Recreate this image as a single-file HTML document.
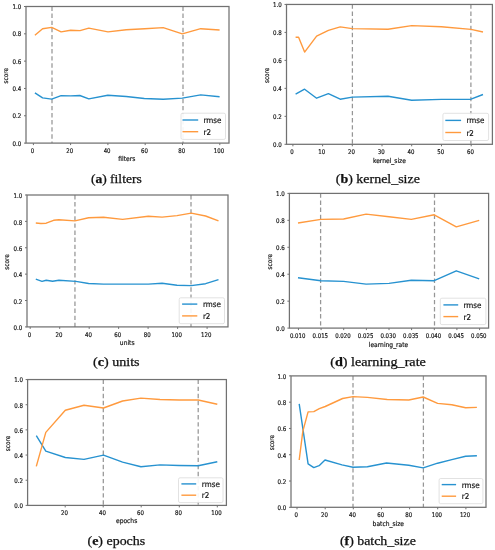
<!DOCTYPE html>
<html lang="en">
<head>
<meta charset="utf-8">
<title>Hyperparameter sensitivity: rmse and r2 scores</title>
<style>
html,body{margin:0;padding:0;background:#fff;}
body{width:495px;height:550px;overflow:hidden;}
svg{display:block;}
text{font-family:"DejaVu Sans","Liberation Sans",sans-serif;fill:#111;stroke:#111;stroke-width:0.18px;}
.cap{font-family:"Liberation Serif","DejaVu Serif",serif;font-size:12.6px;fill:#111;stroke:#111;stroke-width:0.25px;}
.fr{fill:none;stroke:#717171;stroke-width:1.25;}
.tk{fill:none;stroke:#606060;stroke-width:0.9;}
.dash{fill:none;stroke:#969696;stroke-width:1.25;stroke-dasharray:4.4 2.7;}
.ln{fill:none;stroke-width:1.4;stroke-linejoin:round;stroke-linecap:butt;}
.lg{fill:#fff;fill-opacity:0.9;stroke:#dadada;stroke-width:0.8;}
</style>
</head>
<body>
<svg width="495" height="550" viewBox="0 0 495 550">
<rect width="495" height="550" fill="#fff"/>
<g id="plot-a">
<path class="dash" d="M52 6.5V143.1"/>
<path class="dash" d="M183 6.5V143.1"/>
<polyline class="ln" stroke="#2792d0" points="34.9,92.8 42.6,97.9 51.7,99.1 61.1,95.7 70.6,95.9 79.8,95.5 88.8,98.9 107.8,95.3 126.2,96.5 144.3,98.5 163.2,99.3 182.3,98.1 200.7,94.9 219.6,96.8"/>
<polyline class="ln" stroke="#ff9a3e" points="34.9,35.3 42.6,28.7 51.7,27.4 61.1,31.9 70.6,30.2 80,30.6 88.8,28.1 108,31.9 126.2,29.7 144.7,28.7 163.2,27.6 182.3,33.8 200.7,28.7 219.6,30"/>
<path class="tk" d="M26 143.1h-2M26 115.78h-2M26 88.46h-2M26 61.14h-2M26 33.82h-2M26 6.5h-2M33.4 143.1v2M70.6 143.1v2M107.9 143.1v2M145.2 143.1v2M182.5 143.1v2M219.8 143.1v2"/>
<rect class="fr" x="26" y="6.5" width="203" height="136.6"/>
<text transform="translate(21.3,145.75) scale(0.86,1)" font-size="6.4" text-anchor="end">0.0</text>
<text transform="translate(21.3,118.43) scale(0.86,1)" font-size="6.4" text-anchor="end">0.2</text>
<text transform="translate(21.3,91.11) scale(0.86,1)" font-size="6.4" text-anchor="end">0.4</text>
<text transform="translate(21.3,63.79) scale(0.86,1)" font-size="6.4" text-anchor="end">0.6</text>
<text transform="translate(21.3,36.47) scale(0.86,1)" font-size="6.4" text-anchor="end">0.8</text>
<text transform="translate(21.3,9.15) scale(0.86,1)" font-size="6.4" text-anchor="end">1.0</text>
<text transform="translate(32.6,153.4) scale(0.85,1)" font-size="6.4" text-anchor="middle">0</text>
<text transform="translate(69.8,153.4) scale(0.85,1)" font-size="6.4" text-anchor="middle">20</text>
<text transform="translate(107.1,153.4) scale(0.85,1)" font-size="6.4" text-anchor="middle">40</text>
<text transform="translate(144.4,153.4) scale(0.85,1)" font-size="6.4" text-anchor="middle">60</text>
<text transform="translate(181.7,153.4) scale(0.85,1)" font-size="6.4" text-anchor="middle">80</text>
<text transform="translate(219,153.4) scale(0.85,1)" font-size="6.4" text-anchor="middle">100</text>
<text transform="translate(126.8,160.8) scale(0.9,1)" font-size="6.65" text-anchor="middle">filters</text>
<text transform="translate(8.3,75.8) rotate(-90) scale(0.9,1)" font-size="6.4" text-anchor="middle">score</text>
<rect class="lg" x="181" y="113.2" width="44.5" height="26.2" rx="1.6"/>
<path class="ln" stroke="#2792d0" d="M182.5 120H198.2"/>
<path class="ln" stroke="#ff9a3e" d="M182.5 131.7H198.2"/>
<text transform="translate(203.5,122.9) scale(0.9,1)" font-size="8.0" text-anchor="start">rmse</text>
<text transform="translate(203.5,134.9) scale(0.9,1)" font-size="8.0" text-anchor="start">r2</text>
</g>
<text class="cap" x="90.9" y="182.8" textLength="50.8" lengthAdjust="spacingAndGlyphs">(<tspan font-weight="bold">a</tspan>) filters</text>
<g id="plot-b">
<path class="dash" d="M352.4 4.45V144.3"/>
<path class="dash" d="M470.9 4.45V144.3"/>
<polyline class="ln" stroke="#2792d0" points="295.6,94.1 304.6,89.2 316.6,98.2 328.4,93.7 340.2,99.2 352.3,97.1 388,96.2 411.7,100.3 441.4,99.4 471,99.2 483,94.5"/>
<polyline class="ln" stroke="#ff9a3e" points="295.6,37.3 298.6,37.3 304.6,52.1 316.6,36.2 328.4,30.3 340.2,26.9 352.3,28.6 388,29.2 411.7,25.6 441.4,26.7 471,29.4 483,32"/>
<path class="tk" d="M286.5 144.3h-2M286.5 116.33h-2M286.5 88.36h-2M286.5 60.39h-2M286.5 32.42h-2M286.5 4.45h-2M292.9 144.3v2M322.6 144.3v2M352.3 144.3v2M382 144.3v2M411.7 144.3v2M441.5 144.3v2M471.2 144.3v2"/>
<rect class="fr" x="286.5" y="4.45" width="205.9" height="139.85"/>
<text transform="translate(281.8,147.15) scale(0.86,1)" font-size="6.4" text-anchor="end">0.0</text>
<text transform="translate(281.8,119.18) scale(0.86,1)" font-size="6.4" text-anchor="end">0.2</text>
<text transform="translate(281.8,91.21) scale(0.86,1)" font-size="6.4" text-anchor="end">0.4</text>
<text transform="translate(281.8,63.24) scale(0.86,1)" font-size="6.4" text-anchor="end">0.6</text>
<text transform="translate(281.8,35.27) scale(0.86,1)" font-size="6.4" text-anchor="end">0.8</text>
<text transform="translate(281.8,7.3) scale(0.86,1)" font-size="6.4" text-anchor="end">1.0</text>
<text transform="translate(292.1,154) scale(0.85,1)" font-size="6.4" text-anchor="middle">0</text>
<text transform="translate(321.8,154) scale(0.85,1)" font-size="6.4" text-anchor="middle">10</text>
<text transform="translate(351.5,154) scale(0.85,1)" font-size="6.4" text-anchor="middle">20</text>
<text transform="translate(381.2,154) scale(0.85,1)" font-size="6.4" text-anchor="middle">30</text>
<text transform="translate(410.9,154) scale(0.85,1)" font-size="6.4" text-anchor="middle">40</text>
<text transform="translate(440.7,154) scale(0.85,1)" font-size="6.4" text-anchor="middle">50</text>
<text transform="translate(470.4,154) scale(0.85,1)" font-size="6.4" text-anchor="middle">60</text>
<text transform="translate(389.4,163.4) scale(0.9,1)" font-size="6.65" text-anchor="middle">kernel_size</text>
<text transform="translate(268.5,75.38) rotate(-90) scale(0.9,1)" font-size="6.4" text-anchor="middle">score</text>
<rect class="lg" x="442.9" y="113.3" width="45.7" height="27.2" rx="1.6"/>
<path class="ln" stroke="#2792d0" d="M445.3 120.4H461.1"/>
<path class="ln" stroke="#ff9a3e" d="M445.3 132.5H461.1"/>
<text transform="translate(466.4,123.3) scale(0.9,1)" font-size="8.0" text-anchor="start">rmse</text>
<text transform="translate(466.4,135.7) scale(0.9,1)" font-size="8.0" text-anchor="start">r2</text>
</g>
<text class="cap" x="335.8" y="183.2" textLength="84.1" lengthAdjust="spacingAndGlyphs">(<tspan font-weight="bold">b</tspan>) kernel_size</text>
<g id="plot-c">
<path class="dash" d="M74.95 195V326.9"/>
<path class="dash" d="M191 195V326.9"/>
<polyline class="ln" stroke="#2792d0" points="35.8,279.2 42,281.4 46.2,280.3 52.6,281.2 58.9,280.3 75.9,281.4 88.6,283.5 103.5,284.1 130,284.1 148.3,284.1 162.1,283.3 177,285.2 191.2,285.6 205.6,283.7 218.5,279.7"/>
<polyline class="ln" stroke="#ff9a3e" points="35.8,223 40.9,223.5 46.2,223.2 53.6,220.3 58.9,219.8 74.9,220.9 88.6,217.7 103.5,217.3 122.6,219.4 148.3,216.2 162.1,217.1 177,215.6 191.2,213.1 205.6,216 218.5,220.9"/>
<path class="tk" d="M27 326.9h-2M27 300.52h-2M27 274.14h-2M27 247.76h-2M27 221.38h-2M27 195h-2M30.2 326.9v2M59.7 326.9v2M89.2 326.9v2M118.6 326.9v2M148.1 326.9v2M177.6 326.9v2M207.1 326.9v2"/>
<rect class="fr" x="27" y="195" width="201" height="131.9"/>
<text transform="translate(22.3,330.05) scale(0.86,1)" font-size="6.4" text-anchor="end">0.0</text>
<text transform="translate(22.3,303.67) scale(0.86,1)" font-size="6.4" text-anchor="end">0.2</text>
<text transform="translate(22.3,277.29) scale(0.86,1)" font-size="6.4" text-anchor="end">0.4</text>
<text transform="translate(22.3,250.91) scale(0.86,1)" font-size="6.4" text-anchor="end">0.6</text>
<text transform="translate(22.3,224.53) scale(0.86,1)" font-size="6.4" text-anchor="end">0.8</text>
<text transform="translate(22.3,198.15) scale(0.86,1)" font-size="6.4" text-anchor="end">1.0</text>
<text transform="translate(29.4,337.2) scale(0.85,1)" font-size="6.4" text-anchor="middle">0</text>
<text transform="translate(58.9,337.2) scale(0.85,1)" font-size="6.4" text-anchor="middle">20</text>
<text transform="translate(88.4,337.2) scale(0.85,1)" font-size="6.4" text-anchor="middle">40</text>
<text transform="translate(117.8,337.2) scale(0.85,1)" font-size="6.4" text-anchor="middle">60</text>
<text transform="translate(147.3,337.2) scale(0.85,1)" font-size="6.4" text-anchor="middle">80</text>
<text transform="translate(176.8,337.2) scale(0.85,1)" font-size="6.4" text-anchor="middle">100</text>
<text transform="translate(206.3,337.2) scale(0.85,1)" font-size="6.4" text-anchor="middle">120</text>
<text transform="translate(127.2,344.6) scale(0.9,1)" font-size="6.65" text-anchor="middle">units</text>
<text transform="translate(9.4,261.95) rotate(-90) scale(0.9,1)" font-size="6.4" text-anchor="middle">score</text>
<rect class="lg" x="179.2" y="297.8" width="45.3" height="25.9" rx="1.6"/>
<path class="ln" stroke="#2792d0" d="M182.1 304.1H197.3"/>
<path class="ln" stroke="#ff9a3e" d="M182.1 315.9H197.3"/>
<text transform="translate(202.9,307) scale(0.9,1)" font-size="8.0" text-anchor="start">rmse</text>
<text transform="translate(202.9,319.1) scale(0.9,1)" font-size="8.0" text-anchor="start">r2</text>
</g>
<text class="cap" x="93" y="365.7" textLength="46.6" lengthAdjust="spacingAndGlyphs">(<tspan font-weight="bold">c</tspan>) units</text>
<g id="plot-d">
<path class="dash" d="M320.6 193.4V328.1"/>
<path class="dash" d="M434.5 193.4V328.1"/>
<polyline class="ln" stroke="#2792d0" points="298,277.8 320.9,280.7 343.6,281.4 366.1,284.1 389,283.4 411.3,280.3 434.2,280.7 456.3,270.8 479.2,278.8"/>
<polyline class="ln" stroke="#ff9a3e" points="298,223 320.9,219.4 343.6,219 366.1,214.1 389,216.8 411.3,219.4 434.2,214.8 456.3,226.9 479.2,220.3"/>
<path class="tk" d="M289.4 328.1h-2M289.4 301.16h-2M289.4 274.22h-2M289.4 247.28h-2M289.4 220.34h-2M289.4 193.4h-2M298.45 328.1v2M321.1 328.1v2M343.7 328.1v2M366.4 328.1v2M389 328.1v2M411.6 328.1v2M434.3 328.1v2M456.9 328.1v2M479.6 328.1v2"/>
<rect class="fr" x="289.4" y="193.4" width="199.2" height="134.7"/>
<text transform="translate(284.7,330.95) scale(0.86,1)" font-size="6.4" text-anchor="end">0.0</text>
<text transform="translate(284.7,304.01) scale(0.86,1)" font-size="6.4" text-anchor="end">0.2</text>
<text transform="translate(284.7,277.07) scale(0.86,1)" font-size="6.4" text-anchor="end">0.4</text>
<text transform="translate(284.7,250.13) scale(0.86,1)" font-size="6.4" text-anchor="end">0.6</text>
<text transform="translate(284.7,223.19) scale(0.86,1)" font-size="6.4" text-anchor="end">0.8</text>
<text transform="translate(284.7,196.25) scale(0.86,1)" font-size="6.4" text-anchor="end">1.0</text>
<text transform="translate(297.65,337.9) scale(0.85,1)" font-size="6.4" text-anchor="middle">0.010</text>
<text transform="translate(320.3,337.9) scale(0.85,1)" font-size="6.4" text-anchor="middle">0.015</text>
<text transform="translate(342.9,337.9) scale(0.85,1)" font-size="6.4" text-anchor="middle">0.020</text>
<text transform="translate(365.6,337.9) scale(0.85,1)" font-size="6.4" text-anchor="middle">0.025</text>
<text transform="translate(388.2,337.9) scale(0.85,1)" font-size="6.4" text-anchor="middle">0.030</text>
<text transform="translate(410.8,337.9) scale(0.85,1)" font-size="6.4" text-anchor="middle">0.035</text>
<text transform="translate(433.5,337.9) scale(0.85,1)" font-size="6.4" text-anchor="middle">0.040</text>
<text transform="translate(456.1,337.9) scale(0.85,1)" font-size="6.4" text-anchor="middle">0.045</text>
<text transform="translate(478.8,337.9) scale(0.85,1)" font-size="6.4" text-anchor="middle">0.050</text>
<text transform="translate(388.5,346.9) scale(0.9,1)" font-size="6.65" text-anchor="middle">learning_rate</text>
<text transform="translate(272.2,261.75) rotate(-90) scale(0.9,1)" font-size="6.4" text-anchor="middle">score</text>
<rect class="lg" x="440.3" y="298.2" width="45.6" height="26.4" rx="1.6"/>
<path class="ln" stroke="#2792d0" d="M443.4 304.9H458.2"/>
<path class="ln" stroke="#ff9a3e" d="M443.4 316.6H458.2"/>
<text transform="translate(463.5,307.8) scale(0.9,1)" font-size="8.0" text-anchor="start">rmse</text>
<text transform="translate(463.5,319.8) scale(0.9,1)" font-size="8.0" text-anchor="start">r2</text>
</g>
<text class="cap" x="330.2" y="365.7" textLength="95.7" lengthAdjust="spacingAndGlyphs">(<tspan font-weight="bold">d</tspan>) learning_rate</text>
<g id="plot-e">
<path class="dash" d="M103.3 379.55V505.4"/>
<path class="dash" d="M198.2 379.55V505.4"/>
<polyline class="ln" stroke="#2792d0" points="36.3,435.6 45.8,451.1 65.3,457.5 84,459.4 103.5,455.1 122.6,462.1 140.9,466.8 160,464.9 179.1,465.5 198.2,465.7 217.3,461.7"/>
<polyline class="ln" stroke="#ff9a3e" points="36.3,466.4 45.8,432.4 65.3,410.2 84,405.3 103.5,408 122.6,401 140.9,398.1 160,399.5 179.1,400 198.2,400 217.3,404.2"/>
<path class="tk" d="M27.6 505.4h-2M27.6 480.23h-2M27.6 455.06h-2M27.6 429.89h-2M27.6 404.72h-2M27.6 379.55h-2M65.2 505.4v2M103.2 505.4v2M141.2 505.4v2M179.3 505.4v2M217.3 505.4v2"/>
<rect class="fr" x="27.6" y="379.55" width="198.8" height="125.85"/>
<text transform="translate(22.9,508.25) scale(0.86,1)" font-size="6.4" text-anchor="end">0.0</text>
<text transform="translate(22.9,483.08) scale(0.86,1)" font-size="6.4" text-anchor="end">0.2</text>
<text transform="translate(22.9,457.91) scale(0.86,1)" font-size="6.4" text-anchor="end">0.4</text>
<text transform="translate(22.9,432.74) scale(0.86,1)" font-size="6.4" text-anchor="end">0.6</text>
<text transform="translate(22.9,407.57) scale(0.86,1)" font-size="6.4" text-anchor="end">0.8</text>
<text transform="translate(22.9,382.4) scale(0.86,1)" font-size="6.4" text-anchor="end">1.0</text>
<text transform="translate(64.4,514.7) scale(0.85,1)" font-size="6.4" text-anchor="middle">20</text>
<text transform="translate(102.4,514.7) scale(0.85,1)" font-size="6.4" text-anchor="middle">40</text>
<text transform="translate(140.4,514.7) scale(0.85,1)" font-size="6.4" text-anchor="middle">60</text>
<text transform="translate(178.5,514.7) scale(0.85,1)" font-size="6.4" text-anchor="middle">80</text>
<text transform="translate(216.5,514.7) scale(0.85,1)" font-size="6.4" text-anchor="middle">100</text>
<text transform="translate(126.6,522.5) scale(0.9,1)" font-size="6.65" text-anchor="middle">epochs</text>
<text transform="translate(10.4,443.48) rotate(-90) scale(0.9,1)" font-size="6.4" text-anchor="middle">score</text>
<rect class="lg" x="178.5" y="477.8" width="44.5" height="24.8" rx="1.6"/>
<path class="ln" stroke="#2792d0" d="M181.4 483.9H196.2"/>
<path class="ln" stroke="#ff9a3e" d="M181.4 495.2H196.2"/>
<text transform="translate(201.8,486.8) scale(0.9,1)" font-size="8.0" text-anchor="start">rmse</text>
<text transform="translate(201.8,498.4) scale(0.9,1)" font-size="8.0" text-anchor="start">r2</text>
</g>
<text class="cap" x="87.5" y="544.9" textLength="57.7" lengthAdjust="spacingAndGlyphs">(<tspan font-weight="bold">e</tspan>) epochs</text>
<g id="plot-f">
<path class="dash" d="M353 375.9V507.3"/>
<path class="dash" d="M423.4 375.9V507.3"/>
<polyline class="ln" stroke="#2792d0" points="299.2,403.8 308.1,463.8 313.8,467.6 319.1,465.7 325,460 342,464.9 353,467.2 367.4,466.8 386.5,463 408.8,465.3 423.2,467.9 437.6,463.2 451.8,459.6 465.6,456.2 476.9,455.8"/>
<polyline class="ln" stroke="#ff9a3e" points="299.2,460 302.8,431.4 308.1,411.9 313.8,411.6 319.3,408.7 325.2,406.5 342.6,398.5 353,396.6 367.4,397.4 387.2,399.5 408.8,400 423.2,397 437.6,403.4 451.8,404.8 465.6,407.8 476.9,407.4"/>
<path class="tk" d="M291 507.3h-2M291 481.02h-2M291 454.74h-2M291 428.46h-2M291 402.18h-2M291 375.9h-2M297 507.3v2M325.2 507.3v2M353.3 507.3v2M381.5 507.3v2M409.6 507.3v2M437.7 507.3v2M465.9 507.3v2"/>
<rect class="fr" x="291" y="375.9" width="195" height="131.4"/>
<text transform="translate(286.3,510.15) scale(0.86,1)" font-size="6.4" text-anchor="end">0.0</text>
<text transform="translate(286.3,483.87) scale(0.86,1)" font-size="6.4" text-anchor="end">0.2</text>
<text transform="translate(286.3,457.59) scale(0.86,1)" font-size="6.4" text-anchor="end">0.4</text>
<text transform="translate(286.3,431.31) scale(0.86,1)" font-size="6.4" text-anchor="end">0.6</text>
<text transform="translate(286.3,405.03) scale(0.86,1)" font-size="6.4" text-anchor="end">0.8</text>
<text transform="translate(286.3,378.75) scale(0.86,1)" font-size="6.4" text-anchor="end">1.0</text>
<text transform="translate(296.2,517.4) scale(0.85,1)" font-size="6.4" text-anchor="middle">0</text>
<text transform="translate(324.4,517.4) scale(0.85,1)" font-size="6.4" text-anchor="middle">20</text>
<text transform="translate(352.5,517.4) scale(0.85,1)" font-size="6.4" text-anchor="middle">40</text>
<text transform="translate(380.7,517.4) scale(0.85,1)" font-size="6.4" text-anchor="middle">60</text>
<text transform="translate(408.8,517.4) scale(0.85,1)" font-size="6.4" text-anchor="middle">80</text>
<text transform="translate(436.9,517.4) scale(0.85,1)" font-size="6.4" text-anchor="middle">100</text>
<text transform="translate(465.1,517.4) scale(0.85,1)" font-size="6.4" text-anchor="middle">120</text>
<text transform="translate(388.3,526.1) scale(0.9,1)" font-size="6.65" text-anchor="middle">batch_size</text>
<text transform="translate(273.8,442.6) rotate(-90) scale(0.9,1)" font-size="6.4" text-anchor="middle">score</text>
<rect class="lg" x="439.1" y="478.5" width="43.8" height="25.2" rx="1.6"/>
<path class="ln" stroke="#2792d0" d="M441.7 484.6H456.1"/>
<path class="ln" stroke="#ff9a3e" d="M441.7 496.2H456.1"/>
<text transform="translate(461.7,487.5) scale(0.9,1)" font-size="8.0" text-anchor="start">rmse</text>
<text transform="translate(461.7,499.4) scale(0.9,1)" font-size="8.0" text-anchor="start">r2</text>
</g>
<text class="cap" x="339.9" y="545.3" textLength="75.9" lengthAdjust="spacingAndGlyphs">(<tspan font-weight="bold">f</tspan>) batch_size</text>
</svg>
</body>
</html>
